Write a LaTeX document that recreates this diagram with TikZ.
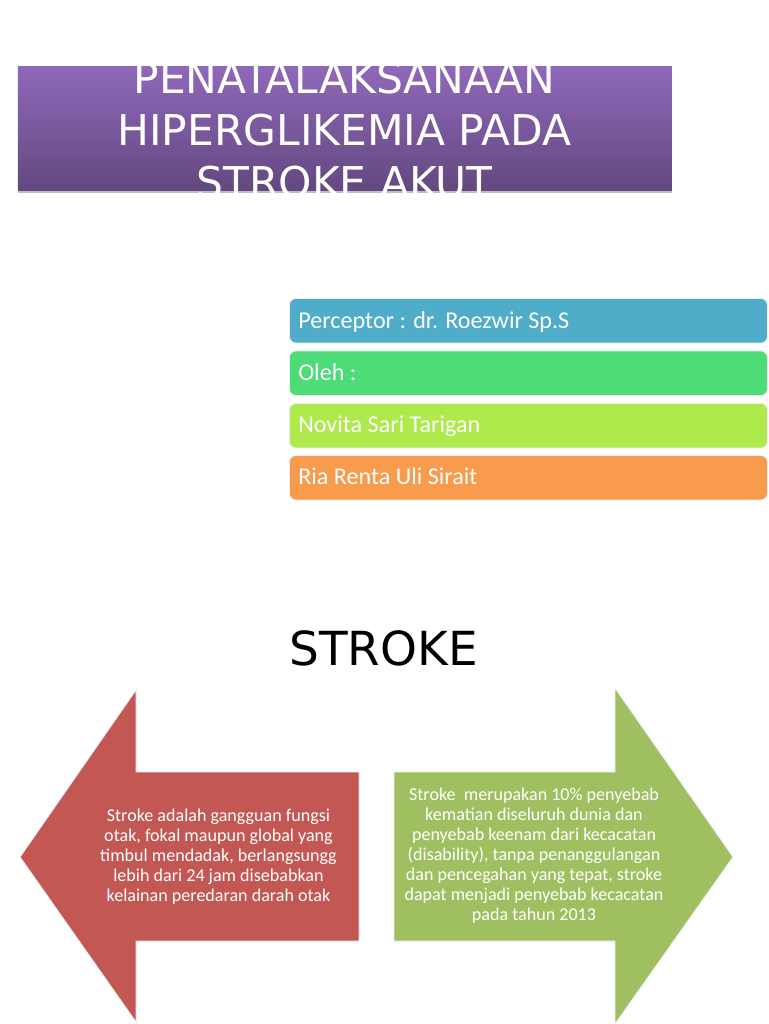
\documentclass[tikz,border=0pt]{standalone}
\usepackage{fontspec}
\setmainfont{DejaVu Sans}
\newfontfamily\carl{Carlito}
\definecolor{titletop}{HTML}{8F68B9}
\definecolor{titlebot}{HTML}{644880}
\definecolor{rowblue}{HTML}{4FADC9}
\definecolor{rowgreen}{HTML}{4DDC78}
\definecolor{rowlime}{HTML}{AEEA4C}
\definecolor{roworange}{HTML}{F99B4D}
\definecolor{arrred}{HTML}{C25754}
\definecolor{arrgreen}{HTML}{A0BF61}
\definecolor{softedge}{HTML}{EEF1F4}
\tikzset{
  rowbox/.style={draw=softedge,line width=0.6pt,rounded corners=5pt,minimum width=358.5pt,minimum height=33.5pt,inner sep=0pt,anchor=north west},
  rowtext/.style={text=white,font=\carl\fontsize{18.1}{20}\selectfont,anchor=base west,inner sep=0pt},
  bodytext/.style={text=white,font=\carl\fontsize{13.55}{15}\selectfont,align=center,inner sep=0pt},
  arrowshape/.style={draw=softedge,line width=0.7pt,line join=miter},
  titletext/.style={text=white,font=\fontsize{31.8}{39}\selectfont,align=center,inner sep=0pt}
}
\begin{document}
\begin{tikzpicture}[x=0.75pt,y=-0.75pt]
\useasboundingbox[fill=white] (0,0) rectangle (768,1024);
% title
\fill[black!25] (18,69) rectangle (672,192.5);
\node[anchor=north west,minimum width=490.5pt,minimum height=92.5pt,inner sep=0pt,top color=titletop,bottom color=titlebot] (title) at (17.5,66.5) {};
\begin{scope}
\clip (0,65) rectangle (768,193);
\node[titletext] (titlelabel) at (344.5,130) {PENATALAKSANAAN\\HIPERGLIKEMIA PADA\\STROKE AKUT};
\end{scope}
% rows
\node[rowbox,fill=rowblue] (r1) at (289,298) {};
\node[rowbox,fill=rowgreen] (r2) at (289,350.5) {};
\node[rowbox,fill=rowlime] (r3) at (289,403) {};
\node[rowbox,fill=roworange] (r4) at (289,455) {};
\node[rowtext] (t1) at (298,328) {Perceptor : dr. Roezwir Sp.S};
\node[rowtext] (t2) at (298,380) {Oleh :};
\node[rowtext] (t3) at (298,432) {Novita Sari Tarigan};
\node[rowtext] (t4) at (298,484) {Ria Renta Uli Sirait};
% heading
\node[font=\fontsize{35.2}{40}\selectfont,inner sep=0pt] (head) at (383.5,648) {STROKE};
% arrows
\draw[arrowshape,fill=arrred] (20,857) -- (136,690) -- (136,772) -- (359,772) -- (359,941) -- (136,941) -- (136,1022) -- cycle;
\draw[arrowshape,fill=arrgreen] (733,857) -- (615,688) -- (615,772) -- (394,772) -- (394,941) -- (615,941) -- (615,1024) -- cycle;
\node[bodytext] (lefttext) at (218.5,856.5) {Stroke adalah gangguan fungsi\\otak, fokal maupun global yang\\timbul mendadak, berlangsungg\\lebih dari 24 jam disebabkan\\kelainan peredaran darah otak};
\node[bodytext] (righttext) at (534,856) {Stroke\ \ merupakan 10\% penyebab\\kematian diseluruh dunia dan\\penyebab keenam dari kecacatan\\(disability), tanpa penanggulangan\\dan pencegahan yang tepat, stroke\\dapat menjadi penyebab kecacatan\\pada tahun 2013};
\end{tikzpicture}
\end{document}
